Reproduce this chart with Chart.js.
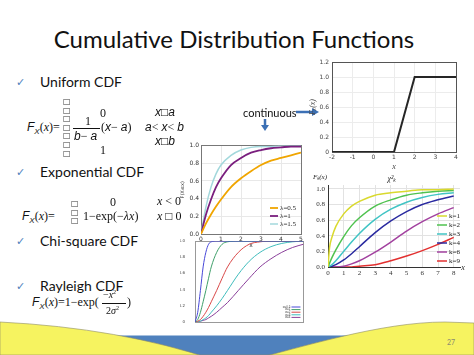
<!DOCTYPE html>
<html>
<head>
<meta charset="utf-8">
<script src="https://cdn.jsdelivr.net/npm/chart.js@4/dist/chart.umd.min.js"></script>
<style>
html, body { margin: 0; padding: 0; background: #fff; }
#slide { position: relative; width: 474px; height: 355px; overflow: hidden; background: #fff; }
#slide canvas, #slide svg, .t, .m, .bar, .ck { position: absolute; }
.t { font-family: Lato, sans-serif; color: #111; white-space: nowrap; }
.m { font: 12px 'Liberation Serif', serif; line-height: 12px; white-space: nowrap; color: #111; }
.s { font-family: 'Liberation Sans', sans-serif; font-style: italic; }
.m sub { font-size: 8px; vertical-align: -3px; line-height: 0; }
.m sup { font-size: 6px; vertical-align: 4px; line-height: 0; }
.bx { font: 8px 'DejaVu Sans', sans-serif; line-height: 8.6px; color: #333; }
.bar { height: 0; border-top: 1px solid #111; }
.ck { font: 11px 'DejaVu Sans', sans-serif; color: #4f81bd; line-height: 11px; }
</style>
</head>
<body>
<div id="slide">
  <svg width="474" height="355" style="left:0;top:0">
    <path d="M105,335.5 L352,335.5 L352,355 L105,355 Z" fill="#4f81bd"/>
    <path d="M0,322 Q120,328 215,360 L250,360 C300,348 380,322 445,322 L474,323 L474,355 L0,355 Z" fill="#f6f360" stroke="#8d8c66" stroke-width="0.6"/>
    <line x1="296" y1="112" x2="313" y2="112" stroke="#3c70b5" stroke-width="2.5"/>
    <polygon points="312,108 319,112 312,116" fill="#3c70b5"/>
    <line x1="265" y1="119" x2="265" y2="126" stroke="#3c70b5" stroke-width="2.5"/>
    <polygon points="261,125 265,131 269,125" fill="#3c70b5"/>
  </svg>

  <canvas id="c1" width="174" height="120" style="left:300px;top:55px"></canvas>
  <canvas id="c2" width="125" height="109" style="left:180px;top:140px"></canvas>
  <canvas id="c3" width="169" height="110" style="left:305px;top:170px"></canvas>
  <canvas id="c4" width="127" height="94" style="left:180px;top:236px"></canvas>

  <div class="t" style="left:0;width:468px;top:27px;font-size:24px;line-height:24px;text-align:center">Cumulative Distribution Functions</div>

  <div class="ck" style="left:16px;top:77px">✓</div>
  <div class="t" style="left:40px;top:75px;font-size:14px;line-height:14px">Uniform CDF</div>
  <div class="ck" style="left:16px;top:167px">✓</div>
  <div class="t" style="left:40px;top:165px;font-size:14px;line-height:14px">Exponential CDF</div>
  <div class="ck" style="left:16px;top:236px">✓</div>
  <div class="t" style="left:40px;top:234px;font-size:14px;line-height:14px">Chi-square CDF</div>
  <div class="ck" style="left:16px;top:281px">✓</div>
  <div class="t" style="left:40px;top:279px;font-size:14px;line-height:14px">Rayleigh CDF</div>

  <div class="t" style="left:243px;top:107px;font-size:11px;line-height:11px">continuous</div>
  <div class="t" style="left:447px;top:339px;font-size:7px;line-height:7px;color:#8a8a70">27</div>

  <!-- uniform -->
  <div class="m" style="left:27px;top:121px"><span class="s">F<sub>X</sub></span>(<i>x</i>)=</div>
  <div class="m bx" style="left:63px;top:98px">□<br>□<br>□<br>□<br>□<br>□<br>□</div>
  <div class="m" style="left:100px;top:107px">0</div>
  <div class="m" style="left:85px;top:115px">1</div>
  <div class="bar" style="left:73px;top:128px;width:27px"></div>
  <div class="m" style="left:74px;top:130px"><span class="s">b</span>− <span class="s">a</span></div>
  <div class="m" style="left:101px;top:121px">(<span class="s">x</span>− <span class="s">a</span>)</div>
  <div class="m" style="left:100px;top:144px">1</div>
  <div class="m" style="left:155px;top:106px"><span class="s">x</span>□<span class="s">a</span></div>
  <div class="m" style="left:145px;top:121px"><span class="s">a</span>&lt; <span class="s">x</span>&lt; <span class="s">b</span></div>
  <div class="m" style="left:155px;top:135px"><span class="s">x</span>□<span class="s">b</span></div>

  <!-- exponential -->
  <div class="m" style="left:22px;top:210px"><span class="s">F<sub>X</sub></span>(<i>x</i>)=</div>
  <div class="m bx" style="left:71px;top:200px">□<br>□<br>□</div>
  <div class="m" style="left:110px;top:196px">0</div>
  <div class="m" style="left:157px;top:195px"><i>x</i> &lt; 0</div>
  <div class="m" style="left:83px;top:210px">1−exp(−<i>λx</i>)</div>
  <div class="m" style="left:157px;top:210px"><i>x</i> □ 0</div>

  <!-- rayleigh -->
  <div class="m" style="left:32px;top:296px"><span class="s">F<sub>X</sub></span>(<i>x</i>)=1−exp(</div>
  <div class="m" style="left:103px;top:289px;font-size:10px">−<i>x</i><sup>2</sup></div>
  <div class="bar" style="left:102px;top:303px;width:24px"></div>
  <div class="m" style="left:106px;top:305px;font-size:10px">2<i>σ</i><sup>2</sup></div>
  <div class="m" style="left:127px;top:296px">)</div>
</div>

<script>
// uniform CDF (a=1, b=2)
const uniformX = [-2, 1, 2, 4];
const uniformF = [0, 0, 1, 1];

// exponential CDF
const expX = [0, 0.25, 0.5, 0.75, 1, 1.5, 2, 2.5, 3, 3.5, 4, 4.5, 5];
const expLam05 = [0, 0.12, 0.22, 0.31, 0.39, 0.53, 0.63, 0.71, 0.78, 0.83, 0.86, 0.89, 0.92];
const expLam1 = [0, 0.22, 0.39, 0.53, 0.63, 0.78, 0.86, 0.92, 0.95, 0.97, 0.98, 0.99, 0.99];
const expLam15 = [0, 0.31, 0.53, 0.68, 0.78, 0.89, 0.95, 0.98, 0.99, 0.99, 1.0, 1.0, 1.0];

// chi-square CDF
const chiX = [0, 0.1, 0.25, 0.5, 1, 1.5, 2, 3, 4, 5, 6, 7, 8];
const chiK1 = [0, 0.25, 0.38, 0.52, 0.68, 0.78, 0.84, 0.92, 0.95, 0.97, 0.99, 0.99, 1.0];
const chiK2 = [0, 0.05, 0.12, 0.22, 0.39, 0.53, 0.63, 0.78, 0.86, 0.92, 0.95, 0.97, 0.98];
const chiK3 = [0, 0.01, 0.03, 0.08, 0.20, 0.32, 0.43, 0.61, 0.74, 0.83, 0.89, 0.93, 0.95];
const chiK4 = [0, 0, 0.01, 0.03, 0.09, 0.17, 0.26, 0.44, 0.59, 0.71, 0.80, 0.86, 0.91];
const chiK6 = [0, 0, 0, 0, 0.01, 0.04, 0.08, 0.19, 0.32, 0.46, 0.58, 0.68, 0.76];
const chiK9 = [0, 0, 0, 0, 0, 0, 0.01, 0.03, 0.08, 0.14, 0.21, 0.29, 0.38];

// rayleigh CDF
const rayX = [0, 0.25, 0.5, 0.75, 1, 1.25, 1.5, 2, 2.5, 3, 4, 5, 6, 7, 8, 9, 10];
const raySig05 = [0, 0.12, 0.39, 0.68, 0.86, 0.96, 0.99, 1, 1, 1, 1, 1, 1, 1, 1, 1, 1];
const raySig1 = [0, 0.03, 0.12, 0.25, 0.39, 0.54, 0.68, 0.86, 0.96, 0.99, 1, 1, 1, 1, 1, 1, 1];
const raySig2 = [0, 0.01, 0.03, 0.07, 0.12, 0.18, 0.25, 0.39, 0.54, 0.68, 0.86, 0.96, 0.99, 1, 1, 1, 1];
const raySig3 = [0, 0, 0.01, 0.03, 0.05, 0.08, 0.12, 0.20, 0.29, 0.39, 0.59, 0.75, 0.86, 0.93, 0.97, 0.99, 1];
const raySig4 = [0, 0, 0.01, 0.02, 0.03, 0.05, 0.07, 0.12, 0.18, 0.24, 0.39, 0.54, 0.68, 0.78, 0.86, 0.92, 0.96];

Chart.defaults.font.family = "'DejaVu Sans', sans-serif";
Chart.defaults.animation = false;
Chart.defaults.responsive = false;
Chart.defaults.devicePixelRatio = 1;
Chart.defaults.plugins.legend.display = false;
Chart.defaults.plugins.tooltip.enabled = false;
Chart.defaults.elements.point.radius = 0;

const fixW = w => s => { s.width = w; };
const fixH = h => s => { s.height = h; };
const pts = (xs, ys) => xs.map((x, i) => ({ x, y: ys[i] }));

// legend drawn inside the plot, rows anchored to the bottom-right corner
Chart.register({
  id: 'inLegend',
  afterDatasetsDraw(chart, args, o) {
    if (!o || !o.len) return;
    const { ctx, chartArea: a } = chart;
    ctx.save();
    ctx.font = o.font;
    ctx.textBaseline = 'middle';
    ctx.fillStyle = o.color;
    chart.data.datasets.forEach((ds, i) => {
      const y = a.bottom + o.y + i * o.dy;
      let x = a.right + o.x;
      if (o.textLeft) {
        ctx.textAlign = 'right';
        ctx.fillText(ds.label, x - 1, y);
      } else {
        ctx.textAlign = 'left';
        ctx.fillText(ds.label, x + o.len + 2, y);
      }
      ctx.strokeStyle = ds.borderColor;
      ctx.lineWidth = ds.borderWidth;
      ctx.beginPath();
      ctx.moveTo(x, y);
      ctx.lineTo(x + o.len, y);
      ctx.stroke();
    });
    ctx.restore();
  }
});

// loose labels around the plot
Chart.register({
  id: 'notes',
  afterDraw(chart, args, o) {
    if (!o || !o.items) return;
    const { ctx, chartArea: a } = chart;
    ctx.save();
    o.items.forEach(n => {
      ctx.font = n.font;
      ctx.fillStyle = n.color || '#222';
      ctx.textAlign = n.align || 'center';
      ctx.textBaseline = 'middle';
      ctx.fillText(n.text, a.left + n.dx, a.top + n.dy);
    });
    ctx.restore();
  }
});

function frame(color, dash) {
  return {
    x2: { type: 'linear', position: 'top', ticks: { display: false }, grid: { display: false },
          border: { color, dash: dash || [] }, afterFit: fixH(0) },
    y2: { type: 'linear', position: 'right', ticks: { display: false }, grid: { display: false },
          border: { color, dash: dash || [] }, afterFit: fixW(0) }
  };
}

// uniform
new Chart(document.getElementById('c1'), {
  type: 'line',
  data: { datasets: [{ data: pts(uniformX, uniformF), borderColor: '#262626', borderWidth: 2, tension: 0 }] },
  options: {
    layout: { padding: { left: 8, top: 7, right: 18, bottom: 3 } },
    scales: Object.assign({
      x: { type: 'linear', min: -2, max: 4, afterFit: fixH(20),
           ticks: { stepSize: 1, color: '#444', font: { size: 6 }, padding: 2 },
           grid: { color: '#ececec', drawTicks: false }, border: { color: '#555' },
           title: { display: true, text: 'x', color: '#444', padding: 0,
                    font: { size: 8, style: 'italic', family: 'Liberation Serif' } } },
      y: { type: 'linear', min: 0, max: 1.2, afterFit: fixW(24),
           ticks: { stepSize: 0.2, color: '#444', font: { size: 6 }, padding: 3 },
           grid: { color: '#ececec', drawTicks: false }, border: { color: '#555' },
           title: { display: true, text: 'Fₓ(x)', color: '#444', padding: 0,
                    font: { size: 8, style: 'italic', family: 'Liberation Serif' } } }
    }, frame('#555'))
  }
});

// exponential
new Chart(document.getElementById('c2'), {
  type: 'line',
  data: { datasets: [
    { label: 'λ=0.5', data: pts(expX, expLam05), borderColor: '#f0a500', borderWidth: 1.8, cubicInterpolationMode: 'monotone' },
    { label: 'λ=1', data: pts(expX, expLam1), borderColor: '#7a1f7e', borderWidth: 1.8, cubicInterpolationMode: 'monotone' },
    { label: 'λ=1.5', data: pts(expX, expLam15), borderColor: '#a3d8dc', borderWidth: 1.5, cubicInterpolationMode: 'monotone' }
  ] },
  options: {
    layout: { padding: { left: 0, top: 4, right: 4, bottom: 0 } },
    plugins: { inLegend: { x: -31, y: -26, dy: 8, len: 8, font: "7px 'Liberation Serif'", color: '#222' } },
    scales: Object.assign({
      x: { type: 'linear', min: 0, max: 5, afterFit: fixH(15),
           ticks: { stepSize: 1, color: '#333', font: { size: 6 }, padding: 2 },
           grid: { color: '#e8e8e8', drawTicks: false }, border: { color: '#777' },
           title: { display: true, text: 'x', color: '#333', padding: 0, font: { size: 6 } } },
      y: { type: 'linear', min: 0, max: 1, afterFit: fixW(21),
           ticks: { stepSize: 0.2, color: '#333', font: { size: 6 }, padding: 2, callback: v => v.toFixed(1) },
           grid: { color: '#e8e8e8', drawTicks: false }, border: { color: '#777' },
           title: { display: true, text: 'F(X≤x)', color: '#333', padding: 0, font: { size: 5 } } }
    }, frame('#777'))
  }
});

// chi-square
new Chart(document.getElementById('c3'), {
  type: 'line',
  data: { datasets: [
    { label: 'k=1', data: pts(chiX, chiK1), borderColor: '#d9d92e', borderWidth: 1.5, cubicInterpolationMode: 'monotone' },
    { label: 'k=2', data: pts(chiX, chiK2), borderColor: '#4fc24f', borderWidth: 1.5, cubicInterpolationMode: 'monotone' },
    { label: 'k=3', data: pts(chiX, chiK3), borderColor: '#40c4c4', borderWidth: 1.5, cubicInterpolationMode: 'monotone' },
    { label: 'k=4', data: pts(chiX, chiK4), borderColor: '#2a2aa0', borderWidth: 1.5, cubicInterpolationMode: 'monotone' },
    { label: 'k=6', data: pts(chiX, chiK6), borderColor: '#a2419f', borderWidth: 1.5, cubicInterpolationMode: 'monotone' },
    { label: 'k=9', data: pts(chiX, chiK9), borderColor: '#e23030', borderWidth: 1.5, cubicInterpolationMode: 'monotone' }
  ] },
  options: {
    layout: { padding: { left: 0, top: 15, right: 14, bottom: 3 } },
    plugins: {
      inLegend: { x: -23, y: -51, dy: 9, len: 10, font: "7px 'Liberation Serif'", color: '#222' },
      notes: { items: [
        { text: 'Fₖ(x)', dx: -8, dy: -8, font: "italic 7px 'Liberation Serif'" },
        { text: 'χ²ₖ', dx: 64, dy: -6, font: "italic 8px 'Liberation Serif'" },
        { text: 'x', dx: 135, dy: 83, font: "italic 8px 'Liberation Serif'" }
      ] }
    },
    scales: {
      x: { type: 'linear', min: 0, max: 8.4, afterFit: fixH(10),
           ticks: { stepSize: 1, includeBounds: false, color: '#333', padding: 2,
                    font: { size: 7, family: 'Liberation Serif' } },
           grid: { color: '#e2e2e2', drawTicks: false }, border: { color: '#333' } },
      y: { type: 'linear', min: 0, max: 1.05, afterFit: fixW(23),
           ticks: { stepSize: 0.2, includeBounds: false, color: '#333', padding: 3,
                    font: { size: 7, family: 'Liberation Serif' }, callback: v => v.toFixed(1) },
           grid: { color: '#e2e2e2', drawTicks: false }, border: { color: '#333' } }
    }
  }
});

// rayleigh
new Chart(document.getElementById('c4'), {
  type: 'line',
  data: { datasets: [
    { label: 'σ=0.5', data: pts(rayX, raySig05), borderColor: '#4848d8', borderWidth: 1, cubicInterpolationMode: 'monotone' },
    { label: 'σ=1', data: pts(rayX, raySig1), borderColor: '#3f9f6a', borderWidth: 1, cubicInterpolationMode: 'monotone' },
    { label: 'σ=2', data: pts(rayX, raySig2), borderColor: '#d84848', borderWidth: 1, cubicInterpolationMode: 'monotone' },
    { label: 'σ=3', data: pts(rayX, raySig3), borderColor: '#3fbcbc', borderWidth: 1, cubicInterpolationMode: 'monotone' },
    { label: 'σ=4', data: pts(rayX, raySig4), borderColor: '#8a3f9a', borderWidth: 1, cubicInterpolationMode: 'monotone' }
  ] },
  options: {
    layout: { padding: { left: 0, top: 5, right: 3, bottom: 1 } },
    plugins: { inLegend: { x: -12, y: -15, dy: 2.6, len: 9, textLeft: true, font: '3px sans-serif', color: '#444' } },
    scales: Object.assign({
      x: { type: 'linear', min: 0, max: 10, afterFit: fixH(7),
           ticks: { stepSize: 2, color: '#444', font: { size: 4 }, padding: 1 },
           grid: { display: false }, border: { color: '#999', dash: [1, 1.5] } },
      y: { type: 'linear', min: 0, max: 1, afterFit: fixW(15),
           ticks: { stepSize: 0.2, color: '#444', font: { size: 4 }, padding: 2 },
           grid: { display: false }, border: { color: '#999', dash: [1, 1.5] } }
    }, frame('#999', [1, 1.5]))
  }
});
</script>
</body>
</html>
